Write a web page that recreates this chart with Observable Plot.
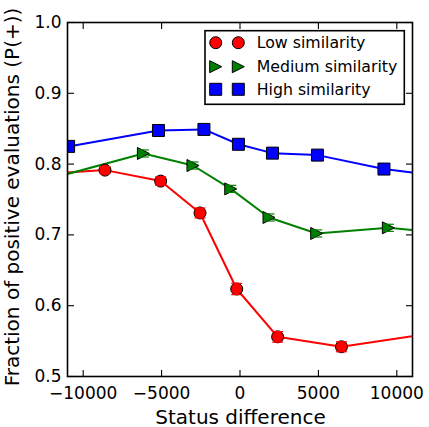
<!DOCTYPE html>
<html><head><meta charset="utf-8">
<script src="https://cdn.jsdelivr.net/npm/d3@7"></script>
<script src="https://cdn.jsdelivr.net/npm/@observablehq/plot@0.6"></script>
<style>body{margin:0;background:#fff} svg{font-family:"DejaVu Sans";}</style>
</head><body><div id="chart"></div>
<script>
const seriesNames = ["Low similarity", "Medium similarity", "High similarity"];
const seriesColors = ["#ff0000", "#008000", "#0000ff"];

const statusLow = [-12500, -8610, -5060, -2550, -210, 2400, 6470, 12500];
const fracLow   = [0.786, 0.7915, 0.776, 0.731, 0.6236, 0.556, 0.542, 0.562];
const errLow    = [0.006, 0.005, 0.006, 0.007, 0.008, 0.0075, 0.007, 0.007];

const statusMed = [-12500, -6160, -3000, -590, 1850, 4890, 9460, 12500];
const fracMed   = [0.777, 0.815, 0.798, 0.765, 0.7246, 0.702, 0.710, 0.704];
const errMed    = [0.005, 0.005, 0.005, 0.005, 0.005, 0.005, 0.005, 0.005];

const statusHigh = [-10930, -5200, -2300, -100, 2070, 4940, 9180, 12500];
const fracHigh   = [0.825, 0.8475, 0.849, 0.828, 0.8155, 0.8127, 0.793, 0.784];
const errHigh    = [0.003, 0.003, 0.003, 0.003, 0.003, 0.003, 0.003, 0.003];

const xTicks = [-10000, -5000, 0, 5000, 10000];
const yTicks = [0.5, 0.6, 0.7, 0.8, 0.9, 1.0];
const xLabel = "Status difference";
const yLabel = "Fraction of positive evaluations (P(+))";

const toRows = (name, xs, ys, es) => xs.map((x, i) => ({s: name, x, y: ys[i], e: es[i]}));
const lowRows = toRows(seriesNames[0], statusLow, fracLow, errLow);
const medRows = toRows(seriesNames[1], statusMed, fracMed, errMed);
const highRows = toRows(seriesNames[2], statusHigh, fracHigh, errHigh);
const rows = [...lowRows, ...medRows, ...highRows];

const rad = size => Math.sqrt(size / Math.PI);
const circleSym = {draw(ctx, size) { const r = rad(size); ctx.moveTo(r, 0); ctx.arc(0, 0, r, 0, 2 * Math.PI); }};
const triRight = {draw(ctx, size) { const r = rad(size); ctx.moveTo(r, 0); ctx.lineTo(-r, -r); ctx.lineTo(-r, r); ctx.closePath(); }};
const squareSym = {draw(ctx, size) { const r = rad(size); ctx.rect(-r, -r, 2 * r, 2 * r); }};
const capSym = {draw(ctx, size) { const r = rad(size); ctx.moveTo(-r, 0); ctx.lineTo(r, 0); }};
const TL = 6.5; // tick length
const tickUp = {draw(ctx) { ctx.moveTo(0, 0); ctx.lineTo(0, -TL); }};
const tickDown = {draw(ctx) { ctx.moveTo(0, 0); ctx.lineTo(0, TL); }};
const tickRight = {draw(ctx) { ctx.moveTo(0, 0); ctx.lineTo(TL, 0); }};
const tickLeft = {draw(ctx) { ctx.moveTo(0, 0); ctx.lineTo(-TL, 0); }};
const symbols = [circleSym, triRight, squareSym];

const dotOpts = {x: "x", y: "y", r: 6, fill: "s", stroke: "black", strokeWidth: 1, clip: true};
const capOpts = {x: "x", r: 5.5, symbol: capSym, fill: "none", stroke: "s", strokeWidth: 1.2, clip: true};
const tickOpts = {r: 3, fill: "none", stroke: "black", strokeWidth: 1.1};

const svg = Plot.plot({
  width: 429, height: 427,
  marginLeft: 67, marginRight: 17, marginTop: 22, marginBottom: 51,
  style: {fontFamily: "DejaVu Sans", fontSize: "17px", color: "black", background: "white"},
  x: {domain: [-11000, 11000]},
  y: {domain: [0.5, 1.0]},
  color: {domain: seriesNames, range: seriesColors},
  marks: [
    Plot.line(rows, {x: "x", y: "y", z: "s", stroke: "s", strokeWidth: 2, clip: true}),
    Plot.ruleX(rows, {x: "x", y1: d => d.y - d.e, y2: d => d.y + d.e, stroke: "s", strokeWidth: 1, clip: true}),
    Plot.dot(lowRows, {...dotOpts, symbol: symbols[0]}),
    Plot.dot(medRows, {...dotOpts, symbol: symbols[1]}),
    Plot.dot(highRows, {...dotOpts, symbol: symbols[2]}),
    Plot.dot(rows, {...capOpts, y: d => d.y + d.e}),
    Plot.dot(rows, {...capOpts, y: d => d.y - d.e}),
    Plot.axisX({ticks: xTicks, tickSize: 0, tickPadding: 10, tickFormat: d3.format("d"), label: null, fontSize: 17}),
    Plot.axisY({ticks: yTicks, tickSize: 0, tickPadding: 6, tickFormat: d3.format(".1f"), label: null, fontSize: 17}),
    Plot.dot(xTicks, {...tickOpts, x: d => d, frameAnchor: "bottom", symbol: tickUp}),
    Plot.dot(xTicks, {...tickOpts, x: d => d, frameAnchor: "top", symbol: tickDown}),
    Plot.dot(yTicks, {...tickOpts, y: d => d, frameAnchor: "left", symbol: tickRight}),
    Plot.dot(yTicks, {...tickOpts, y: d => d, frameAnchor: "right", symbol: tickLeft}),
    Plot.frame({stroke: "black", strokeWidth: 1.6})
  ]
});

const s = d3.select(svg);
s.append("text").attr("x", 240.5).attr("y", 423.5).attr("text-anchor", "middle")
  .attr("font-size", 20).attr("fill", "black").text(xLabel);
s.append("text").attr("transform", "translate(18.7,197) rotate(-90)").attr("text-anchor", "middle")
  .attr("font-size", 20).attr("fill", "black").text(yLabel);

// legend
const lg = s.append("g").attr("text-anchor", "start");
lg.append("rect").attr("x", 205).attr("y", 30.7).attr("width", 199.3).attr("height", 73.6)
  .attr("fill", "white").attr("stroke", "black").attr("stroke-width", 1.6);
const rowY = [42.7, 66.7, 89.3];
seriesNames.forEach((name, i) => {
  [215.7, 238.3].forEach(mx => {
    lg.append("path").attr("d", d3.symbol(symbols[i], 36 * Math.PI)())
      .attr("transform", `translate(${mx},${rowY[i]})`)
      .attr("fill", seriesColors[i]).attr("stroke", "black").attr("stroke-width", 1);
  });
  lg.append("text").attr("x", 256.7).attr("y", rowY[i]).attr("dy", "0.35em")
    .attr("text-anchor", "start")
    .attr("font-size", 15.75).attr("fill", "black").text(name);
});

document.getElementById("chart").appendChild(svg);
</script>
</body></html>
